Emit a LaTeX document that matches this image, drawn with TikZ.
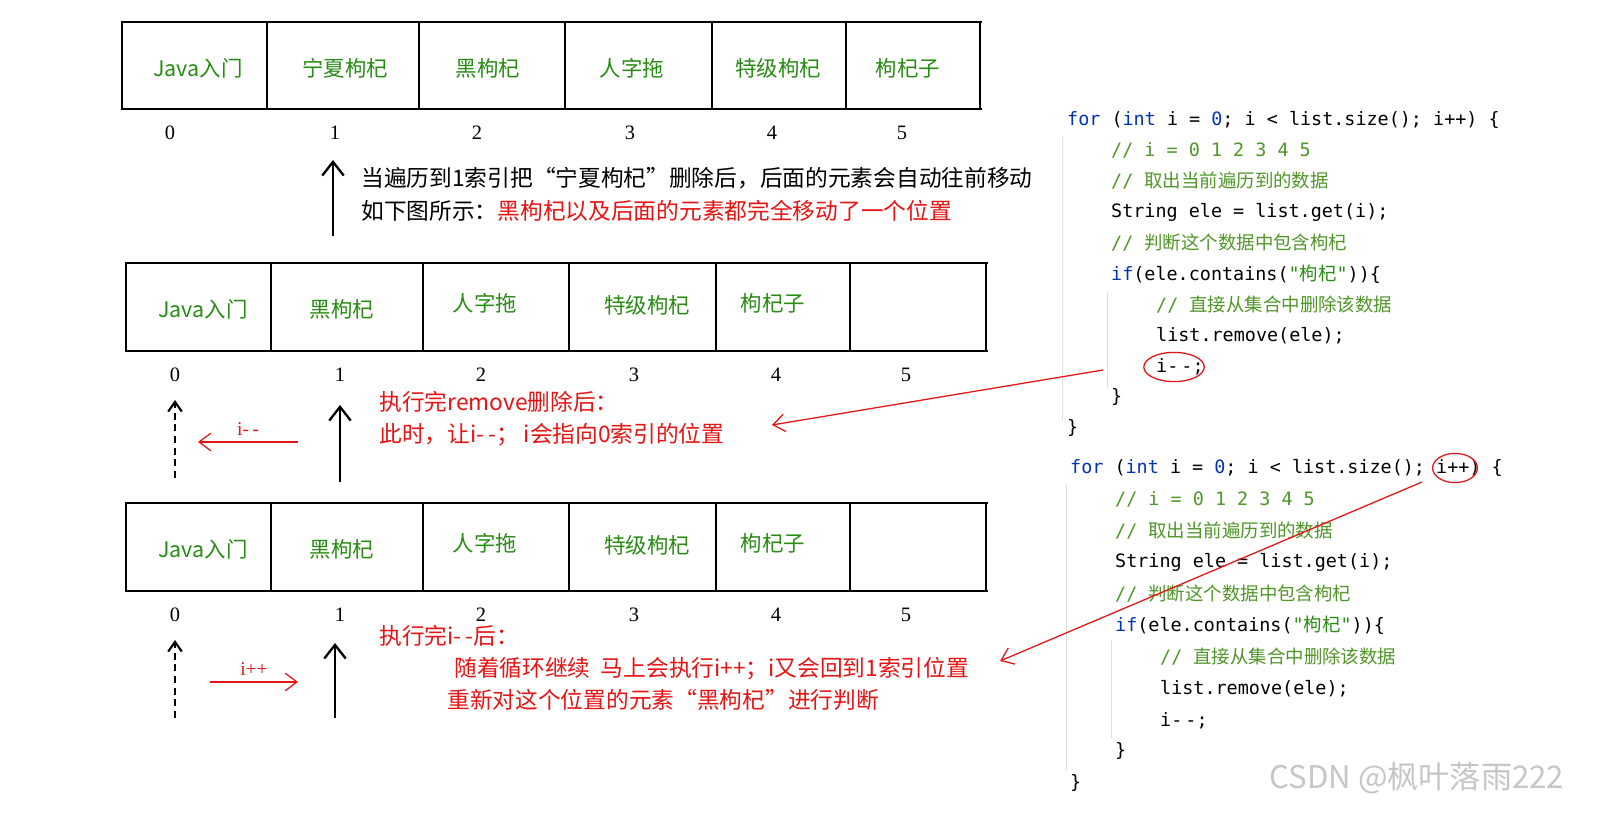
\documentclass[tikz,border=0pt]{standalone}
\usetikzlibrary{arrows.meta,shapes.geometric}
\usepackage{fontspec}
\newfontfamily\cjk{Noto Sans CJK SC}
\newfontfamily\mono{DejaVu Sans Mono}
\setmainfont{Liberation Serif}
\definecolor{cgreen}{RGB}{40,140,20}
\definecolor{kw}{RGB}{0,51,179}
\definecolor{cm}{RGB}{80,150,40}
\definecolor{rd}{RGB}{230,20,20}
\begin{document}
\begin{tikzpicture}[x=1.026pt,y=-1.026pt,
  cell/.style={font=\cjk\fontsize{22}{22}\selectfont\itshape,text=cgreen},
  idx/.style={font=\fontsize{21}{21}\selectfont},
  note/.style={font=\cjk\fontsize{23.3}{24}\selectfont,anchor=west},
  code/.style={font=\mono\fontsize{18.9}{19}\selectfont,anchor=west,inner sep=0},
  up/.style={-{Straight Barb[length=14pt,width=22pt]},line width=2.4pt},
  dup/.style={-{Straight Barb[length=10pt,width=14pt]},line width=2.2pt,dash pattern=on 7pt off 5pt},
  rarr/.style={rd,line width=1.3pt,-{Straight Barb[length=12pt,width=18pt]}}]
\useasboundingbox (0,0) rectangle (1600,823);
\fill[white] (0,0) rectangle (1600,823);
% row 1
\draw[line width=2.4pt] (982,22) -- (122,22) -- (122,109) -- (982,109);
\foreach \x in {267,419,565,712,846,980} \draw[line width=2.4pt] (\x,22) -- (\x,109);
\node[cell] (a0) at (198,68) {Java入门};
\node[cell] (a1) at (345,68) {宁夏枸杞};
\node[cell] (a2) at (488,68) {黑枸杞};
\node[cell] (a3) at (632,68) {人字拖};
\node[cell] (a4) at (778,68) {特级枸杞};
\node[cell] (a5) at (908,68) {枸杞子};
\foreach \x/\t [count=\i] in {170/0,335/1,477/2,630/3,772/4,902/5} \node[idx] (ia\i) at (\x,133) {\t};
\coordinate (u1s) at (333,236); \coordinate (u1e) at (333,160);
\draw[up] (u1s) -- (u1e);
\node[note] (n1) at (358,178) {当遍历到1索引把“宁夏枸杞”删除后，后面的元素会自动往前移动};
\node[note] (n2) at (358,211) {如下图所示：\textcolor{rd}{黑枸杞以及后面的元素都完全移动了一个位置}};
% row 2 and 3
\foreach \yy/\nm in {263/b,503/c}{
\draw[line width=2.4pt] (988,\yy) -- (126,\yy) -- (126,\yy+88) -- (988,\yy+88);
\foreach \x in {271,423,569,716,850,986} \draw[line width=2.4pt] (\x,\yy) -- (\x,\yy+88);
\node[cell] (\nm0) at (203,\yy+46) {Java入门};
\node[cell] (\nm1) at (342,\yy+46) {黑枸杞};
\node[cell] (\nm2) at (485,\yy+40) {人字拖};
\node[cell] (\nm3) at (647,\yy+42) {特级枸杞};
\node[cell] (\nm4) at (773,\yy+40) {枸杞子};
\foreach \x/\t [count=\i] in {175/0,340/1,481/2,634/3,776/4,906/5} \node[idx] (i\nm\i) at (\x,\yy+112) {\t};
}
% row 2 annotations
\coordinate (d2s) at (175,478); \coordinate (d2e) at (175,400);
\draw[dup] (d2s) -- (d2e);
\coordinate (m2s) at (298,442); \coordinate (m2e) at (198,442);
\draw[rarr] (m2s) -- node[above=3pt,font=\fontsize{20}{20}\selectfont,text=rd]{i-\,-} (m2e);
\coordinate (u2s) at (340,482); \coordinate (u2e) at (340,405);
\draw[up] (u2s) -- (u2e);
\node[note,text=rd] (n3) at (376,402) {执行完remove删除后：};
\node[note,text=rd] (n4) at (376,435) {此时，让i-\,-；\ i会指向0索引的位置};
% row 3 annotations
\coordinate (d3s) at (175,718); \coordinate (d3e) at (175,640);
\draw[dup] (d3s) -- (d3e);
\coordinate (m3s) at (210,682); \coordinate (m3e) at (298,682);
\draw[rarr] (m3s) -- node[above=3pt,font=\fontsize{20}{20}\selectfont,text=rd]{i++} (m3e);
\coordinate (u3s) at (335,718); \coordinate (u3e) at (335,643);
\draw[up] (u3s) -- (u3e);
\node[note,text=rd] (n5) at (376,636) {执行完i-\,-后：};
\node[note,text=rd] (n6) at (451,669) {随着循环继续\ \ 马上会执行i++；i又会回到1索引位置};
\node[note,text=rd] (n7) at (444,700) {重新对这个位置的元素“黑枸杞”进行判断};
% code block 1
\draw[gray!25,line width=1pt] (1062,136) -- (1062,420);
\draw[gray!25,line width=1pt] (1107,292) -- (1107,388);
\node[code] (c11) at (1067,120) {\textcolor{kw}{for} (\textcolor{kw}{int} i = \textcolor{kw}{0}; i < list.size(); i++) \{};
\node[code,text=cm] (c12) at (1111,150) {// i = 0 1 2 3 4 5};
\node[code,text=cm] (c13) at (1111,181) {// \cjk\itshape 取出当前遍历到的数据};
\node[code] (c14) at (1111,212) {String ele = list.get(i);};
\node[code,text=cm] (c15) at (1111,243) {// \cjk\itshape 判断这个数据中包含枸杞};
\node[code] (c16) at (1111,274) {\textcolor{kw}{if}(ele.contains(\textcolor{cgreen}{"{\cjk 枸杞}"}))\{};
\node[code,text=cm] (c17) at (1156,305) {// \cjk\itshape 直接从集合中删除该数据};
\node[code] (c18) at (1156,336) {list.remove(ele);};
\node[code] (c19) at (1156,367) {i-\,-;};
\node[code] (c110) at (1111,397) {\}};
\node[code] (c111) at (1067,428) {\}};
\node[draw=rd,line width=1.3pt,ellipse,minimum width=62pt,minimum height=30pt,inner sep=0] (e1) at (1174,367) {};
% code block 2
\draw[gray!25,line width=1pt] (1066,484) -- (1066,770);
\draw[gray!25,line width=1pt] (1111,640) -- (1111,738);
\node[code] (c21) at (1070,468) {\textcolor{kw}{for} (\textcolor{kw}{int} i = \textcolor{kw}{0}; i < list.size(); i++) \{};
\node[code,text=cm] (c22) at (1115,499) {// i = 0 1 2 3 4 5};
\node[code,text=cm] (c23) at (1115,531) {// \cjk\itshape 取出当前遍历到的数据};
\node[code] (c24) at (1115,562) {String ele = list.get(i);};
\node[code,text=cm] (c25) at (1115,594) {// \cjk\itshape 判断这个数据中包含枸杞};
\node[code] (c26) at (1115,625) {\textcolor{kw}{if}(ele.contains(\textcolor{cgreen}{"{\cjk 枸杞}"}))\{};
\node[code,text=cm] (c27) at (1160,657) {// \cjk\itshape 直接从集合中删除该数据};
\node[code] (c28) at (1160,689) {list.remove(ele);};
\node[code] (c29) at (1160,721) {i-\,-;};
\node[code] (c210) at (1115,751) {\}};
\node[code] (c211) at (1070,783) {\}};
\node[draw=rd,line width=1.3pt,ellipse,minimum width=46pt,minimum height=30pt,inner sep=0] (e2) at (1455,468) {};
% red connectors
\coordinate (r1s) at (1103,370);
\draw[rarr] (r1s) -- (772,425);
\coordinate (r2s) at (1422,482);
\draw[rarr] (r2s) -- (1000,661);
\node[font=\cjk\fontsize{32}{32}\selectfont,text=gray!45,anchor=west] (wm) at (1266,778) {CSDN @枫叶落雨222};
\end{tikzpicture}
\end{document}
